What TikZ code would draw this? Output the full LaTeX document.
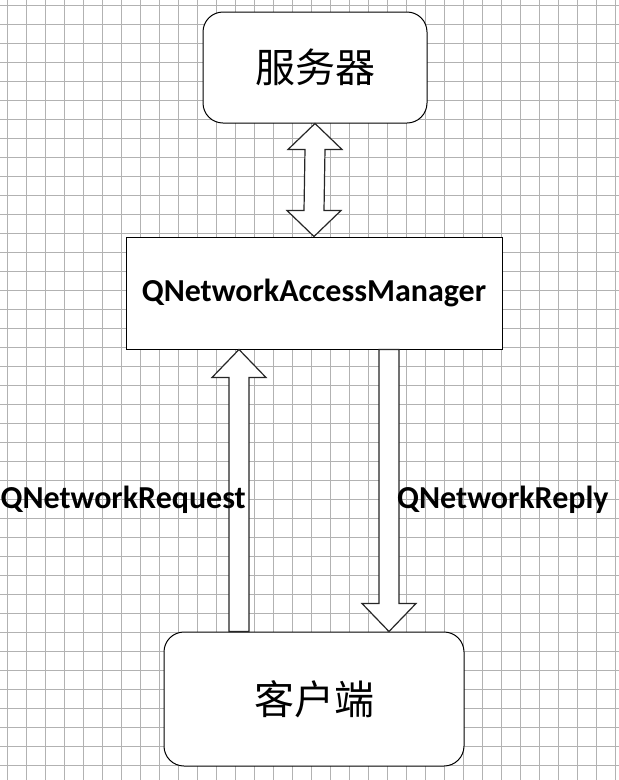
\documentclass[tikz,border=0pt]{standalone}
\usepackage{fontspec}
\usetikzlibrary{calc}
\setmainfont{Carlito}
\newfontfamily\cjk{Noto Sans CJK SC}
\begin{document}
\begin{tikzpicture}[x=1pt,y=-1pt,
  box/.style={draw=black,line width=1pt,fill=white,rounded corners=20pt},
  arr/.style={draw=black!85,line width=1.2pt,fill=white,line join=miter},
  lbl/.style={font=\bfseries\fontsize{32}{36}\selectfont}]
\useasboundingbox (0,0) rectangle (619,780);
\fill[white] (0,0) rectangle (619,780);
\clip (0,0) rectangle (619,780);
\foreach \i in {0,...,33} {
  \draw[black!30,line width=0.8pt] (7+19*\i,0) -- (7+19*\i,780);
}
\foreach \j in {0,...,41} {
  \draw[black!30,line width=0.8pt] (0,5+19*\j) -- (619,5+19*\j);
}
\node[box,minimum width=224pt,minimum height=111pt] (srv) at (315,67.5) {\cjk\fontsize{40}{46}\selectfont 服务器};
\node[draw=black,line width=1pt,fill=white,minimum width=376pt,minimum height=112pt,lbl] (mgr) at (314,293) {QNetworkAccessManager};
\node[box,minimum width=300pt,minimum height=134pt] (cli) at (314,699) {\cjk\fontsize{40}{46}\selectfont 客户端};
% double arrow
\coordinate (dt) at (srv.south);
\coordinate (db) at (mgr.north);
\draw[arr] (dt) -- ++(27,26) -- ++(-17,0) -- ($(db)+(10,-26)$) -- ++(17,0) -- (db) -- ++(-27,-26) -- ++(17,0) -- ($(dt)+(-10,26)$) -- ++(-17,0) -- cycle;
% up arrow
\coordinate (ut) at ($(mgr.south)+(-75,0)$);
\coordinate (ub) at (ut |- cli.north);
\draw[arr] (ut) -- ++(27,28) -- ++(-17,0) -- ($(ub)+(10,0)$) -- ++(-20,0) -- ($(ut)+(-10,28)$) -- ++(-17,0) -- cycle;
% down arrow
\coordinate (vb) at ($(cli.north)+(75,0)$);
\coordinate (vt) at (vb |- mgr.south);
\draw[arr] (vb) -- ++(27,-28) -- ++(-17,0) -- ($(vt)+(10,0)$) -- ++(-20,0) -- ($(vb)+(-10,-28)$) -- ++(-17,0) -- cycle;
\node[lbl,anchor=east,inner sep=0] (req) at (246,500) {QNetworkRequest};
\node[lbl,anchor=west,inner sep=0] (rep) at (397,500) {QNetworkReply};
\end{tikzpicture}
\end{document}
